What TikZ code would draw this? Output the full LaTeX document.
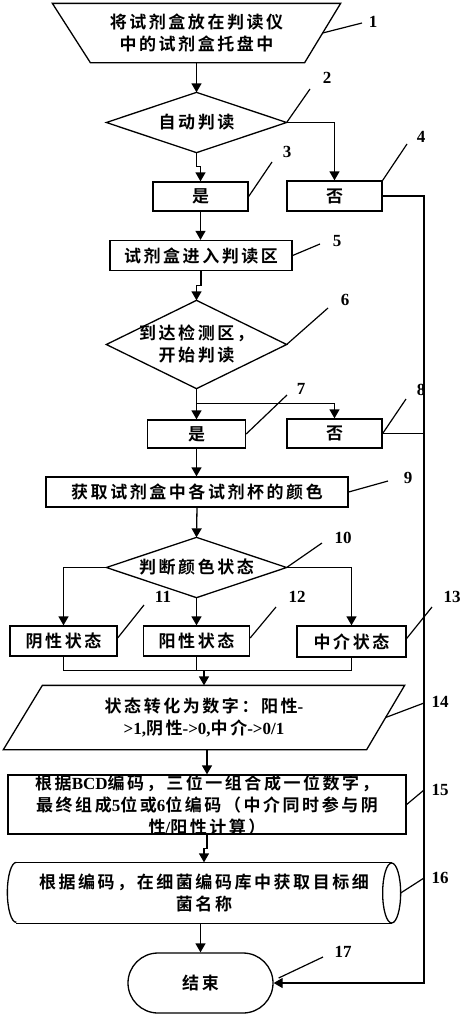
\documentclass[tikz,border=0pt]{standalone}
\usepackage{fontspec}
\setmainfont{Liberation Serif}
\newfontfamily\cjk[LetterSpace=15,BoldFont={* Bold}]{Noto Sans CJK SC}
\newcommand\latn[1]{{\normalfont\bfseries #1}}
\usetikzlibrary{arrows.meta,calc,shapes.misc}
\begin{document}
\begin{tikzpicture}[x=1pt,y=-1pt,line width=1.3pt,
  arr/.style={-{Triangle[length=9pt,width=10pt]}},
  cjkfont/.style={font=\cjk\bfseries\fontsize{17}{22}\selectfont},
  box/.style={draw,rectangle,inner sep=0pt,cjkfont,align=center},
  hid/.style={rectangle,inner sep=0pt,cjkfont,align=center},
  num/.style={font=\bfseries\fontsize{17}{17}\selectfont,inner sep=0pt},
  lead/.style={line width=1.2pt}]
\useasboundingbox (0,0) rectangle (474,1017);
% ---- shapes ----
\node[hid,minimum width=287pt,minimum height=58pt] (n1) at (196.5,33) {将试剂盒放在判读仪\\中的试剂盒托盘中};
\draw (n1.north west) -- (n1.north east) -- ([xshift=-36pt]n1.south east) -- ([xshift=38pt]n1.south west) -- cycle;
\node[hid,minimum width=179pt,minimum height=59pt] (d2) at (196.5,122.5) {自动判读};
\draw (d2.north) -- (d2.east) -- (d2.south) -- (d2.west) -- cycle;
\node[box,minimum width=95pt,minimum height=29pt] (b3) at (200.5,196.5) {是};
\node[box,minimum width=95pt,minimum height=30pt] (b4) at (334.5,196) {否};
\node[box,minimum width=182pt,minimum height=30pt] (b5) at (201,255.5) {试剂盒进入判读区};
\node[hid,minimum width=179pt,minimum height=87pt] (d6) at (196.5,344.5) {到达检测区，\\开始判读};
\draw (d6.north) -- (d6.east) -- (d6.south) -- (d6.west) -- cycle;
\node[box,minimum width=98pt,minimum height=28pt] (b7) at (196.5,434) {是};
\node[box,minimum width=95pt,minimum height=29pt] (b8) at (334.5,433.5) {否};
\node[box,minimum width=302pt,minimum height=30pt] (b9) at (197,492) {获取试剂盒中各试剂杯的颜色};
\node[hid,minimum width=179pt,minimum height=59pt] (d10) at (196.5,567.5) {判断颜色状态};
\draw (d10.north) -- (d10.east) -- (d10.south) -- (d10.west) -- cycle;
\node[box,minimum width=107pt,minimum height=30pt] (b11) at (63.5,641) {阴性状态};
\node[box,minimum width=106pt,minimum height=30pt] (b12) at (196.5,641) {阳性状态};
\node[box,minimum width=109pt,minimum height=31pt] (b13) at (351.5,641.5) {中介状态};
\node[hid,minimum width=400pt,minimum height=63pt] (p14) at (204,717.5) {状态转化为数字：阳性\latn{-}\\\latn{>1,}阴性\latn{->0,}中介\latn{->0/1}};
\draw ([xshift=39pt]p14.north west) -- (p14.north east) -- ([xshift=-38pt]p14.south east) -- (p14.south west) -- cycle;
\node[draw,rectangle,inner sep=0pt,minimum width=398pt,minimum height=59pt] (b15) at (207,804.5) {};
\node[hid] (t15) at (b15.center) {根据\latn{BCD}编码，三位一组合成一位数字，\\最终组成\latn{5}位或\latn{6}位编码（中介同时参与阴\\性\latn{/}阳性计算）};
\node[hid,minimum width=392pt,minimum height=60pt] (c16) at (204,893) {根据编码，在细菌编码库中获取目标细\\菌名称};
\draw ($(c16.north west)+(9,0)$) -- ($(c16.north east)+(-9,0)$);
\draw ($(c16.south west)+(9,0)$) -- ($(c16.south east)+(-9,0)$);
\draw ($(c16.east)+(-9,0)$) ellipse [x radius=9pt,y radius=30pt];
\draw ($(c16.north west)+(9,0)$) arc [start angle=90,end angle=270,x radius=9pt,y radius=30pt];
\node[draw,rounded rectangle,inner sep=0pt,minimum width=145pt,minimum height=60pt,cjkfont] (e17) at (200.5,983) {结束};
% ---- flow connectors ----
\coordinate (r1) at (424,983);
\coordinate (m) at (204,670);
\draw[arr] (n1.south) -- (d2.north);
\draw[arr] (d2.east) -| (b4.north);
\draw[arr] (d2.south) -- ++(0,14) -| (b3.north);
\draw[arr] (b3.south) -- (b3.south |- b5.north);
\draw[arr] (b5.south) -- ++(0,14) -| (d6.north);
\draw[arr] (d6.south) -- (b7.north);
\draw[arr] (d6.south) -- ++(0,15) -| (b8.north);
\draw[arr] (b7.south) -- (b7.south |- b9.north);
\draw[arr] (b9.south) -- (d10.north);
\draw[arr] (d10.west) -| (b11.north);
\draw[arr] (d10.east) -| (b13.north);
\draw[arr] (d10.south) -- (b12.north);
\draw (b11.south) -- ++(0,14) -| (b13.south);
\draw (b12.south) -- (b12.south |- m);
\draw[arr] (m) -- (p14.north);
\draw[arr] (p14.south -| b15.north) -- (b15.north);
\draw[arr] (b15.south) -- ++(0,14) -| (c16.north);
\draw[arr] (c16.south -| e17.north) -- (e17.north);
\draw[arr] (b4.east) -| (r1) -- (e17.east);
\draw (b8.east) -- (b8.east -| r1);
% ---- labels ----
\node[num] (l1) at (373,22) {1};
\node[num] (l2) at (327,78) {2};
\node[num] (l3) at (287,152) {3};
\node[num] (l4) at (421,137) {4};
\node[num] (l5) at (337,241) {5};
\node[num] (l6) at (345,300) {6};
\node[num] (l7) at (301,389) {7};
\node[num] (l8) at (421,390) {8};
\node[num] (l9) at (408,478) {9};
\node[num] (l10) at (343,538) {10};
\node[num] (l11) at (163,597) {11};
\node[num] (l12) at (297,597) {12};
\node[num] (l13) at (452,597) {13};
\node[num] (l14) at (440,702) {14};
\node[num] (l15) at (440,790) {15};
\node[num] (l16) at (440,878) {16};
\node[num] (l17) at (343,952) {17};
\coordinate (k1) at (362,23);
\coordinate (k2) at (310,89);
\coordinate (k3) at (272,162);
\coordinate (k4) at (407,144);
\coordinate (k5) at (320,244);
\coordinate (k6) at (328,308);
\coordinate (k7) at (287,395);
\coordinate (k8) at (406,399);
\coordinate (k9) at (388,481);
\coordinate (k10) at (322,543);
\coordinate (k11) at (144,605);
\coordinate (k12) at (276,607);
\coordinate (k13) at (432,607);
\coordinate (k14) at (424,703);
\coordinate (k15) at (424,790);
\coordinate (k16) at (424,878);
\coordinate (k17) at (323,957);
\draw[lead] ($(n1.north east)!0.5!([xshift=-36pt]n1.south east)$) -- (k1);
\draw[lead] (d2.east) -- (k2);
\draw[lead] (b3.east) -- (k3);
\draw[lead] (b4.north east) -- (k4);
\draw[lead] (b5.east) -- (k5);
\draw[lead] (d6.east) -- (k6);
\draw[lead] (b7.east) -- (k7);
\draw[lead] (b8.east) -- (k8);
\draw[lead] (b9.east) -- (k9);
\draw[lead] (d10.east) -- (k10);
\draw[lead] ([yshift=3pt]b11.east) -- (k11);
\draw[lead] ([yshift=3pt]b12.east) -- (k12);
\draw[lead] ([yshift=3pt]b13.east) -- (k13);
\draw[lead] ($(p14.north east)!0.5!([xshift=-38pt]p14.south east)$) -- (k14);
\draw[lead] (b15.east) -- (k15);
\draw[lead] (c16.east) -- (k16);
\draw[lead] (k17) -- ($(e17.east)+(5,-5)$);
\end{tikzpicture}
\end{document}
